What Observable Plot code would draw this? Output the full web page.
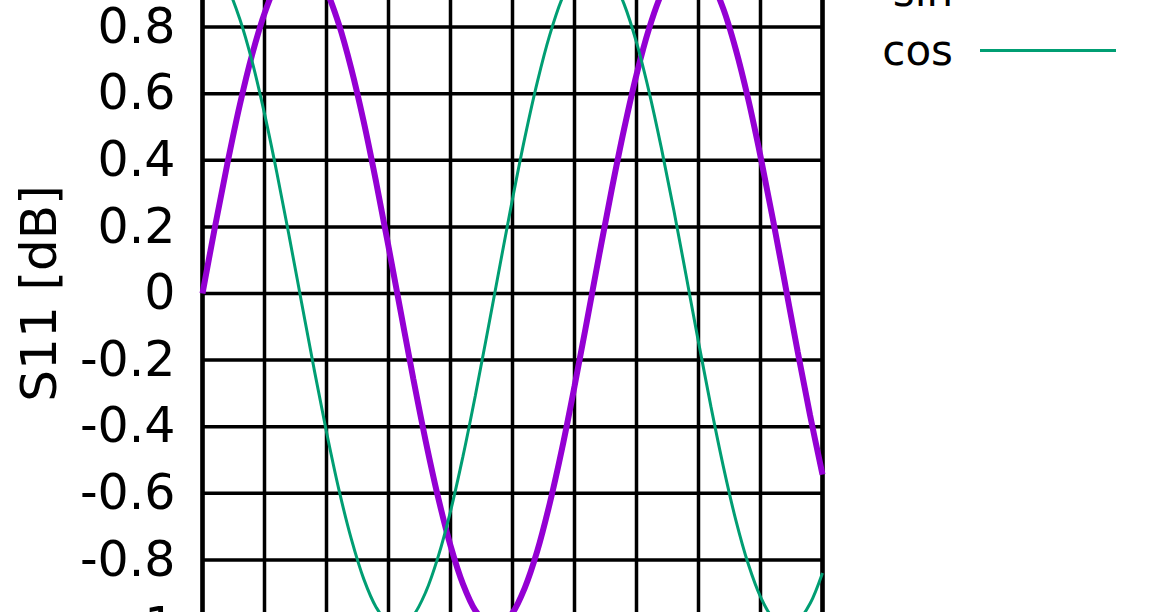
<!DOCTYPE html>
<html><head><meta charset="utf-8">
<script src="https://cdn.jsdelivr.net/npm/d3@7"></script>
<script src="https://cdn.jsdelivr.net/npm/@observablehq/plot@0.6"></script>
<style>
html,body{margin:0;padding:0;background:#fff;overflow:hidden;width:1167px;height:612px;}
#chart{position:absolute;left:0;top:-100.4px;}
</style></head><body><div id="chart"></div>
<script>
const xs = [0,0.2,0.4,0.6,0.8,1,1.2,1.4,1.6,1.8,2,2.2,2.4,2.6,2.8,3,3.2,3.4,3.6,3.8,4,4.2,4.4,4.6,4.8,5,5.2,5.4,5.6,5.8,6,6.2,6.4,6.6,6.8,7,7.2,7.4,7.6,7.8,8,8.2,8.4,8.6,8.8,9,9.2,9.4,9.6,9.8,10];
const sinValues = [0.000,0.199,0.389,0.565,0.717,0.841,0.932,0.985,1.000,0.974,0.909,0.808,0.675,0.516,0.335,0.141,-0.058,-0.256,-0.443,-0.612,-0.757,-0.872,-0.952,-0.994,-0.996,-0.959,-0.883,-0.773,-0.631,-0.465,-0.279,-0.083,0.117,0.312,0.494,0.657,0.794,0.899,0.968,0.999,0.989,0.941,0.855,0.734,0.585,0.412,0.223,0.025,-0.175,-0.366,-0.544];
const cosValues = [1.000,0.980,0.921,0.825,0.697,0.540,0.362,0.170,-0.029,-0.227,-0.416,-0.589,-0.737,-0.857,-0.942,-0.990,-0.998,-0.967,-0.897,-0.791,-0.654,-0.490,-0.307,-0.112,0.087,0.284,0.469,0.635,0.776,0.886,0.960,0.997,0.993,0.950,0.869,0.754,0.608,0.438,0.252,0.054,-0.146,-0.339,-0.519,-0.679,-0.811,-0.911,-0.975,-1.000,-0.985,-0.931,-0.839];
const yTicks = [-1,-0.8,-0.6,-0.4,-0.2,0,0.2,0.4,0.6,0.8,1];
const yTickLabels = ["-1","-0.8","-0.6","-0.4","-0.2","0","0.2","0.4","0.6","0.8","1"];
const xGrid = [0,1,2,3,4,5,6,7,8,9,10];
const seriesNames = ["sin","cos"];
const seriesColors = ["#9400d3","#009e73"];
const seriesWidths = [6,3];
const yLabel = "S11 [dB]";

const rows = xs.map((x,i)=>({x, sin: sinValues[i], cos: cosValues[i]}));

const plot = Plot.plot({
  width:1167, height:786,
  marginLeft:202, marginRight:345, marginTop:60, marginBottom:60,
  style:{fontFamily:"'DejaVu Sans', sans-serif", background:"#fff", overflow:"visible"},
  x:{domain:[0,10], axis:null},
  y:{domain:[-1,1]},
  marks:[
    Plot.ruleX(xGrid,{stroke:"#000", strokeWidth:3.5}),
    Plot.ruleY(yTicks,{stroke:"#000", strokeWidth:3.5}),
    Plot.frame({stroke:"#000", strokeWidth:4.5}),
    Plot.axisY({ticks:yTicks, tickSize:0, tickPadding:27, fontSize:49, label:null,
      tickFormat:(d)=>yTickLabels[yTicks.findIndex(t=>Math.abs(t-d)<1e-9)], fill:"#000"}),
    Plot.text([yLabel],{frameAnchor:"left", textAnchor:"middle", lineAnchor:"middle", dx:-162.5, rotate:-90, fontSize:50, fill:"#000"}),
    Plot.line(rows,{x:"x", y:"sin", stroke:seriesColors[0], strokeWidth:seriesWidths[0], curve:"catmull-rom", strokeLinejoin:"miter", strokeLinecap:"butt"}),
    Plot.line(rows,{x:"x", y:"cos", stroke:seriesColors[1], strokeWidth:seriesWidths[1], curve:"catmull-rom", strokeLinejoin:"miter", strokeLinecap:"butt"})
  ]
});
document.getElementById("chart").appendChild(plot);

// legend (gnuplot-style key, top right)
const svg = d3.select(plot);
const key = svg.append("g").attr("font-family","'DejaVu Sans', sans-serif").attr("font-size",42);
seriesNames.forEach((name,i)=>{
  const baseY = 105.9 + i*59.5;
  key.append("text").attr("x",953).attr("y",baseY).attr("text-anchor","end").attr("fill","#000").text(name);
  key.append("line").attr("x1",980).attr("x2",1116).attr("y1",baseY-15).attr("y2",baseY-15)
    .attr("stroke",seriesColors[i]).attr("stroke-width",seriesWidths[i]);
});
</script>
</body></html>
